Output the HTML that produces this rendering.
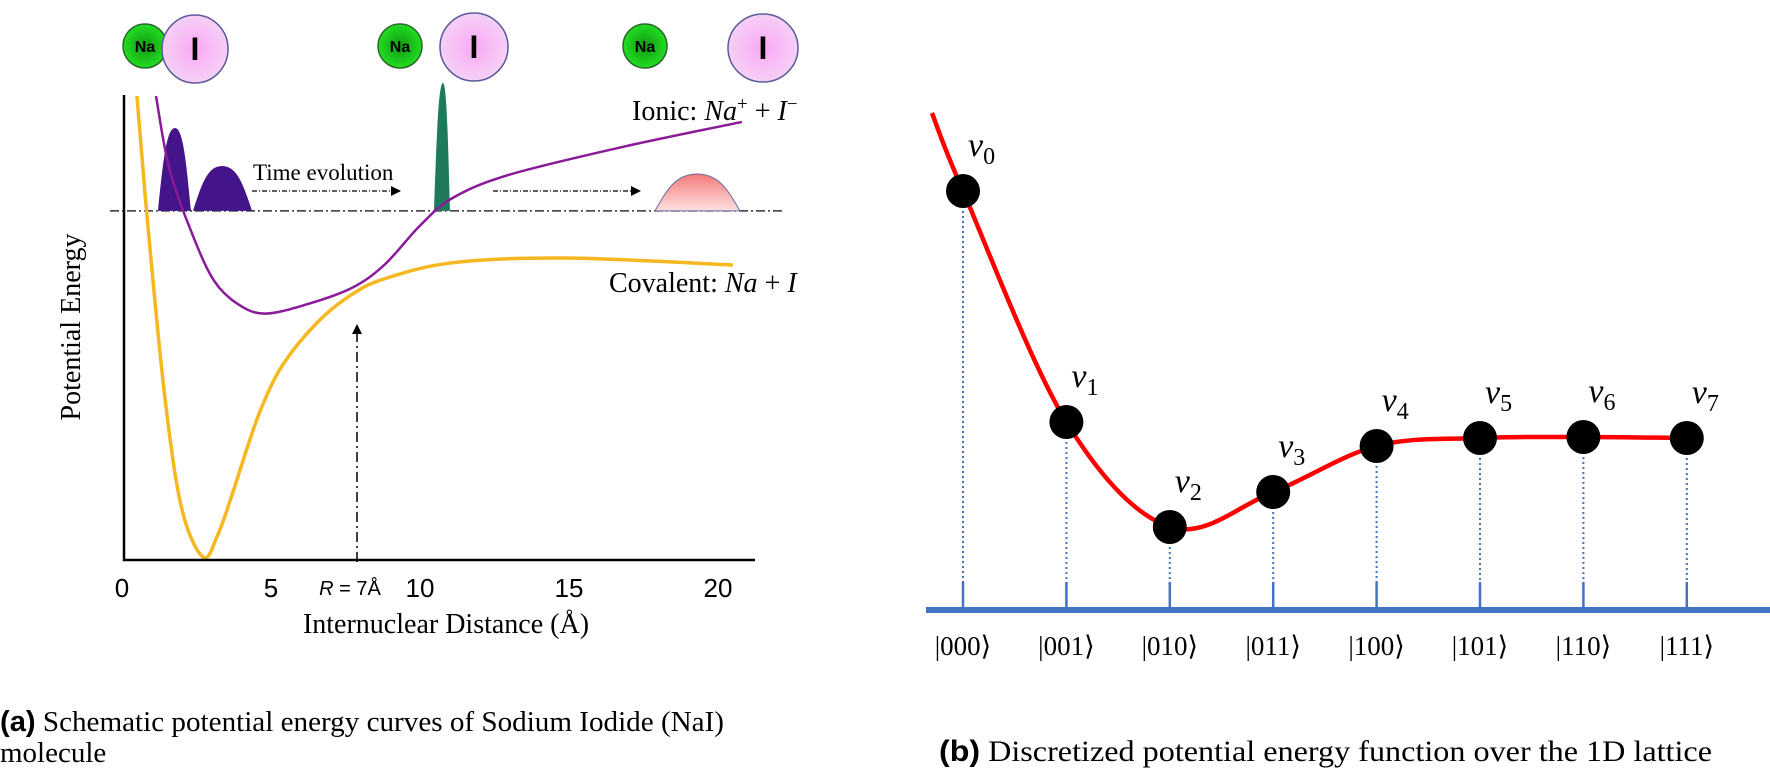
<!DOCTYPE html>
<html><head><meta charset="utf-8">
<style>
html,body{margin:0;padding:0;background:#fff;}
svg{display:block;}
.serif{font-family:"Liberation Serif",serif;}
.sans{font-family:"Liberation Sans",sans-serif;}
</style></head>
<body>
<svg id="fig" width="1770" height="772" viewBox="0 0 1770 772" xmlns="http://www.w3.org/2000/svg">
<defs>
<radialGradient id="gNa" cx="50%" cy="50%" r="50%"><stop offset="0" stop-color="#119911"/><stop offset="1" stop-color="#22dd22"/></radialGradient>
<radialGradient id="gI" cx="50%" cy="50%" r="50%"><stop offset="0" stop-color="#f8a8f4"/><stop offset="1" stop-color="#f6d0f6"/></radialGradient>
<linearGradient id="gPink" x1="0" y1="0" x2="0" y2="1"><stop offset="0" stop-color="#f47a7a"/><stop offset="1" stop-color="#fde0e0"/></linearGradient>
<marker id="arr" markerWidth="10" markerHeight="10" refX="9" refY="5" orient="auto" markerUnits="userSpaceOnUse"><path d="M0,0 L10,5 L0,10 z" fill="#000"/></marker>
</defs>
<g id="left"></g>
<g id="right"></g>
<text class="serif" x="0" y="731" font-size="29" textLength="724" lengthAdjust="spacingAndGlyphs"><tspan font-weight="bold" font-family="Liberation Sans,sans-serif">(a)</tspan> Schematic potential energy curves of Sodium Iodide (NaI)</text>
<text class="serif" x="0" y="762" font-size="29">molecule</text>
<text class="serif" x="939" y="761" font-size="30" textLength="773" lengthAdjust="spacingAndGlyphs"><tspan font-weight="bold" font-family="Liberation Sans,sans-serif">(b)</tspan> Discretized potential energy function over the 1D lattice</text>
</svg>
<script>
// ---------- Panel (a) data ----------
const xTicks = [0, 5, 10, 15, 20];
const covalentX = [0.5, 0.87, 1.43, 2.0, 2.72, 3.2, 3.7, 4.2, 4.7, 5.4, 6.54, 7.68, 8.8, 11.1, 14.9, 20.5];
const covalentY = [100, 71.9, 35.4, 11, 0.4, 5, 14, 24, 33, 42, 51, 57, 60.5, 64, 65, 63.5];
const ionicX = [1.14, 1.6, 2.4, 3.1, 3.9, 4.8, 6.2, 7.7, 8.8, 10.0, 11.1, 13.0, 16.8, 20.8];
const ionicY = [100, 84, 69.5, 60, 55, 53, 55, 58.5, 63.5, 72, 78, 83, 89, 94.4];
const refLevel = [75.2];

// ---------- Panel (b) data ----------
const states = ["|000⟩","|001⟩","|010⟩","|011⟩","|100⟩","|101⟩","|110⟩","|111⟩"];
const potentials = [83.8, 37.6, 16.6, 23.6, 32.8, 34.4, 34.6, 34.4];
const startPotential = [99.4];

const NS = "http://www.w3.org/2000/svg";
function mk(tag, attrs, parent){const e=document.createElementNS(NS,tag);for(const k in attrs)e.setAttribute(k,attrs[k]);parent.appendChild(e);return e;}
function smooth(pts){
  let d="M"+pts[0][0]+","+pts[0][1];
  for(let i=0;i<pts.length-1;i++){
    const p0=pts[Math.max(0,i-1)],p1=pts[i],p2=pts[i+1],p3=pts[Math.min(pts.length-1,i+2)];
    const c1=[p1[0]+(p2[0]-p0[0])/6,p1[1]+(p2[1]-p0[1])/6];
    const c2=[p2[0]-(p3[0]-p1[0])/6,p2[1]-(p3[1]-p1[1])/6];
    d+=" C"+c1[0]+","+c1[1]+" "+c2[0]+","+c2[1]+" "+p2[0]+","+p2[1];
  }
  return d;
}
// ---- Panel a ----
const L=document.getElementById('left');
const ax=v=>122+v*29.8, ay=v=>559-v*4.63;
const atoms=[["Na",145,46,22,22],["I",195,49,33,34],["Na",400,46,22,22],["I",474,47,34,34],["Na",645,46,22,22],["I",763,48,35,34]];
atoms.forEach((a,i)=>{
  const g=mk('g',{},L);
  
  
  mk('ellipse',{cx:a[1],cy:a[2],rx:a[3],ry:a[4],fill:a[0]==="Na"?"url(#gNa)":"url(#gI)",stroke:a[0]==="Na"?"#2a6a2a":"#5a5a9a","stroke-width":1.5},g);
  const t=mk('text',{x:a[1],y:a[0]==="Na"?a[2]+6:a[2]+11,"text-anchor":"middle","font-family":"Liberation Sans,sans-serif","font-weight":"bold","font-size":a[0]==="Na"?16:32,fill:"#000"},g);
  t.textContent=a[0];
});
const rl=mk('line',{x1:110,x2:785,y1:ay(refLevel[0]),y2:ay(refLevel[0]),stroke:"#333","stroke-width":1.5,"stroke-dasharray":"9,3,2,3"},L);


function packet(x1,x2,px,py,fill,name,stroke){
  const b=ay(refLevel[0]);
  const p=mk('path',{d:`M${x1},${b} C${x1+ (px-x1)*0.3},${b-(b-py)*0.6} ${px-(px-x1)*0.5},${py} ${px},${py} C${px+(x2-px)*0.5},${py} ${x2-(x2-px)*0.3},${b-(b-py)*0.6} ${x2},${b} Z`,fill:fill,stroke:stroke||"none","stroke-width":1},L);
  
  
}
packet(158,191,175,128,"#44148a","wavepacket-initial-1");
packet(193,252,222,166,"#44148a","wavepacket-initial-2");
packet(434,450,443,83,"#1f7a5a","wavepacket-crossing");
packet(655,740,697,174,"url(#gPink)","wavepacket-final","#6a6aaa");
const cov=mk('path',{d:smooth(covalentX.map((x,i)=>[ax(x),ay(covalentY[i])])),fill:"none",stroke:"#f5b820","stroke-width":3.5},L);


const ion=mk('path',{d:smooth(ionicX.map((x,i)=>[ax(x),ay(ionicY[i])])),fill:"none",stroke:"#8a1a9a","stroke-width":2.5},L);


const yax=mk('line',{x1:124,x2:124,y1:95,y2:561,stroke:"#000","stroke-width":2.5},L);


const xax=mk('line',{x1:123,x2:755,y1:560,y2:560,stroke:"#000","stroke-width":2.5},L);


xTicks.forEach(v=>{
  const t=mk('text',{x:ax(v),y:597,"text-anchor":"middle","font-family":"Liberation Sans,sans-serif","font-size":26},L);
  
  
  t.textContent=v;
});
const ca=mk('line',{x1:357,x2:357,y1:562,y2:325,stroke:"#000","stroke-width":1.5,"stroke-dasharray":"10,4,2,4","marker-end":"url(#arr)"},L);


const rt=mk('text',{x:350,y:595,"text-anchor":"middle","font-family":"Liberation Sans,sans-serif","font-size":20},L);


rt.innerHTML='<tspan font-style="italic">R</tspan> = 7Å';
const te=mk('text',{x:253,y:180,"font-family":"Liberation Serif,serif","font-size":23},L);


te.textContent="Time evolution";
[[252,400],[493,640]].forEach(a=>{
  const l=mk('line',{x1:a[0],x2:a[1],y1:191,y2:191,stroke:"#000","stroke-width":1.3,"stroke-dasharray":"5,2,1,2","marker-end":"url(#arr)"},L);
  
  
});
const il=mk('text',{x:632,y:120,"font-family":"Liberation Serif,serif","font-size":28},L);


il.innerHTML='Ionic: <tspan font-style="italic">Na</tspan><tspan dy="-10" font-size="19">+</tspan><tspan dy="10"> + </tspan><tspan font-style="italic">I</tspan><tspan dy="-10" font-size="19">−</tspan>';
const cl=mk('text',{x:609,y:292,"font-family":"Liberation Serif,serif","font-size":28},L);


cl.innerHTML='Covalent: <tspan font-style="italic">Na</tspan> + <tspan font-style="italic">I</tspan>';
const yt=mk('text',{x:0,y:0,transform:"translate(80,327) rotate(-90)","text-anchor":"middle","font-family":"Liberation Serif,serif","font-size":28},L);


yt.textContent="Potential Energy";
const xt=mk('text',{x:446,y:633,"text-anchor":"middle","font-family":"Liberation Serif,serif","font-size":28},L);


xt.textContent="Internuclear Distance (Å)";

// ---- Panel b ----
const R=document.getElementById('right');
const bx=i=>963+i*103.4, by=v=>610-v*5;
potentials.forEach((v,i)=>{
  const d=mk('line',{x1:bx(i),x2:bx(i),y1:by(v),y2:585,stroke:"#4472c4","stroke-width":2,"stroke-dasharray":"2,3"},R);
  
  
  const t=mk('line',{x1:bx(i),x2:bx(i),y1:582,y2:610,stroke:"#4472c4","stroke-width":2.5},R);
  
  
});
const base=mk('line',{x1:926,x2:1770,y1:610,y2:610,stroke:"#4472c4","stroke-width":6},R);


const pts=[[bx(-0.3),by(startPotential[0])]].concat(potentials.map((v,i)=>[bx(i),by(v)]));
const rc=mk('path',{d:smooth(pts),fill:"none",stroke:"#ff0000","stroke-width":4.5},R);


potentials.forEach((v,i)=>{
  const c=mk('circle',{cx:bx(i),cy:by(v),r:17,fill:"#000"},R);
  
  
  const t=mk('text',{x:bx(i)+5,y:by(v)-35,"font-family":"Liberation Serif,serif","font-size":34,"font-style":"italic"},R);
  
  
  t.innerHTML='v<tspan dy="8" font-size="24" font-style="normal">'+i+'</tspan>';
  const k=mk('text',{x:bx(i),y:655,"text-anchor":"middle","font-family":"Liberation Serif,serif","font-size":27},R);
  
  
  k.textContent=states[i];
});
</script>
</body></html>
